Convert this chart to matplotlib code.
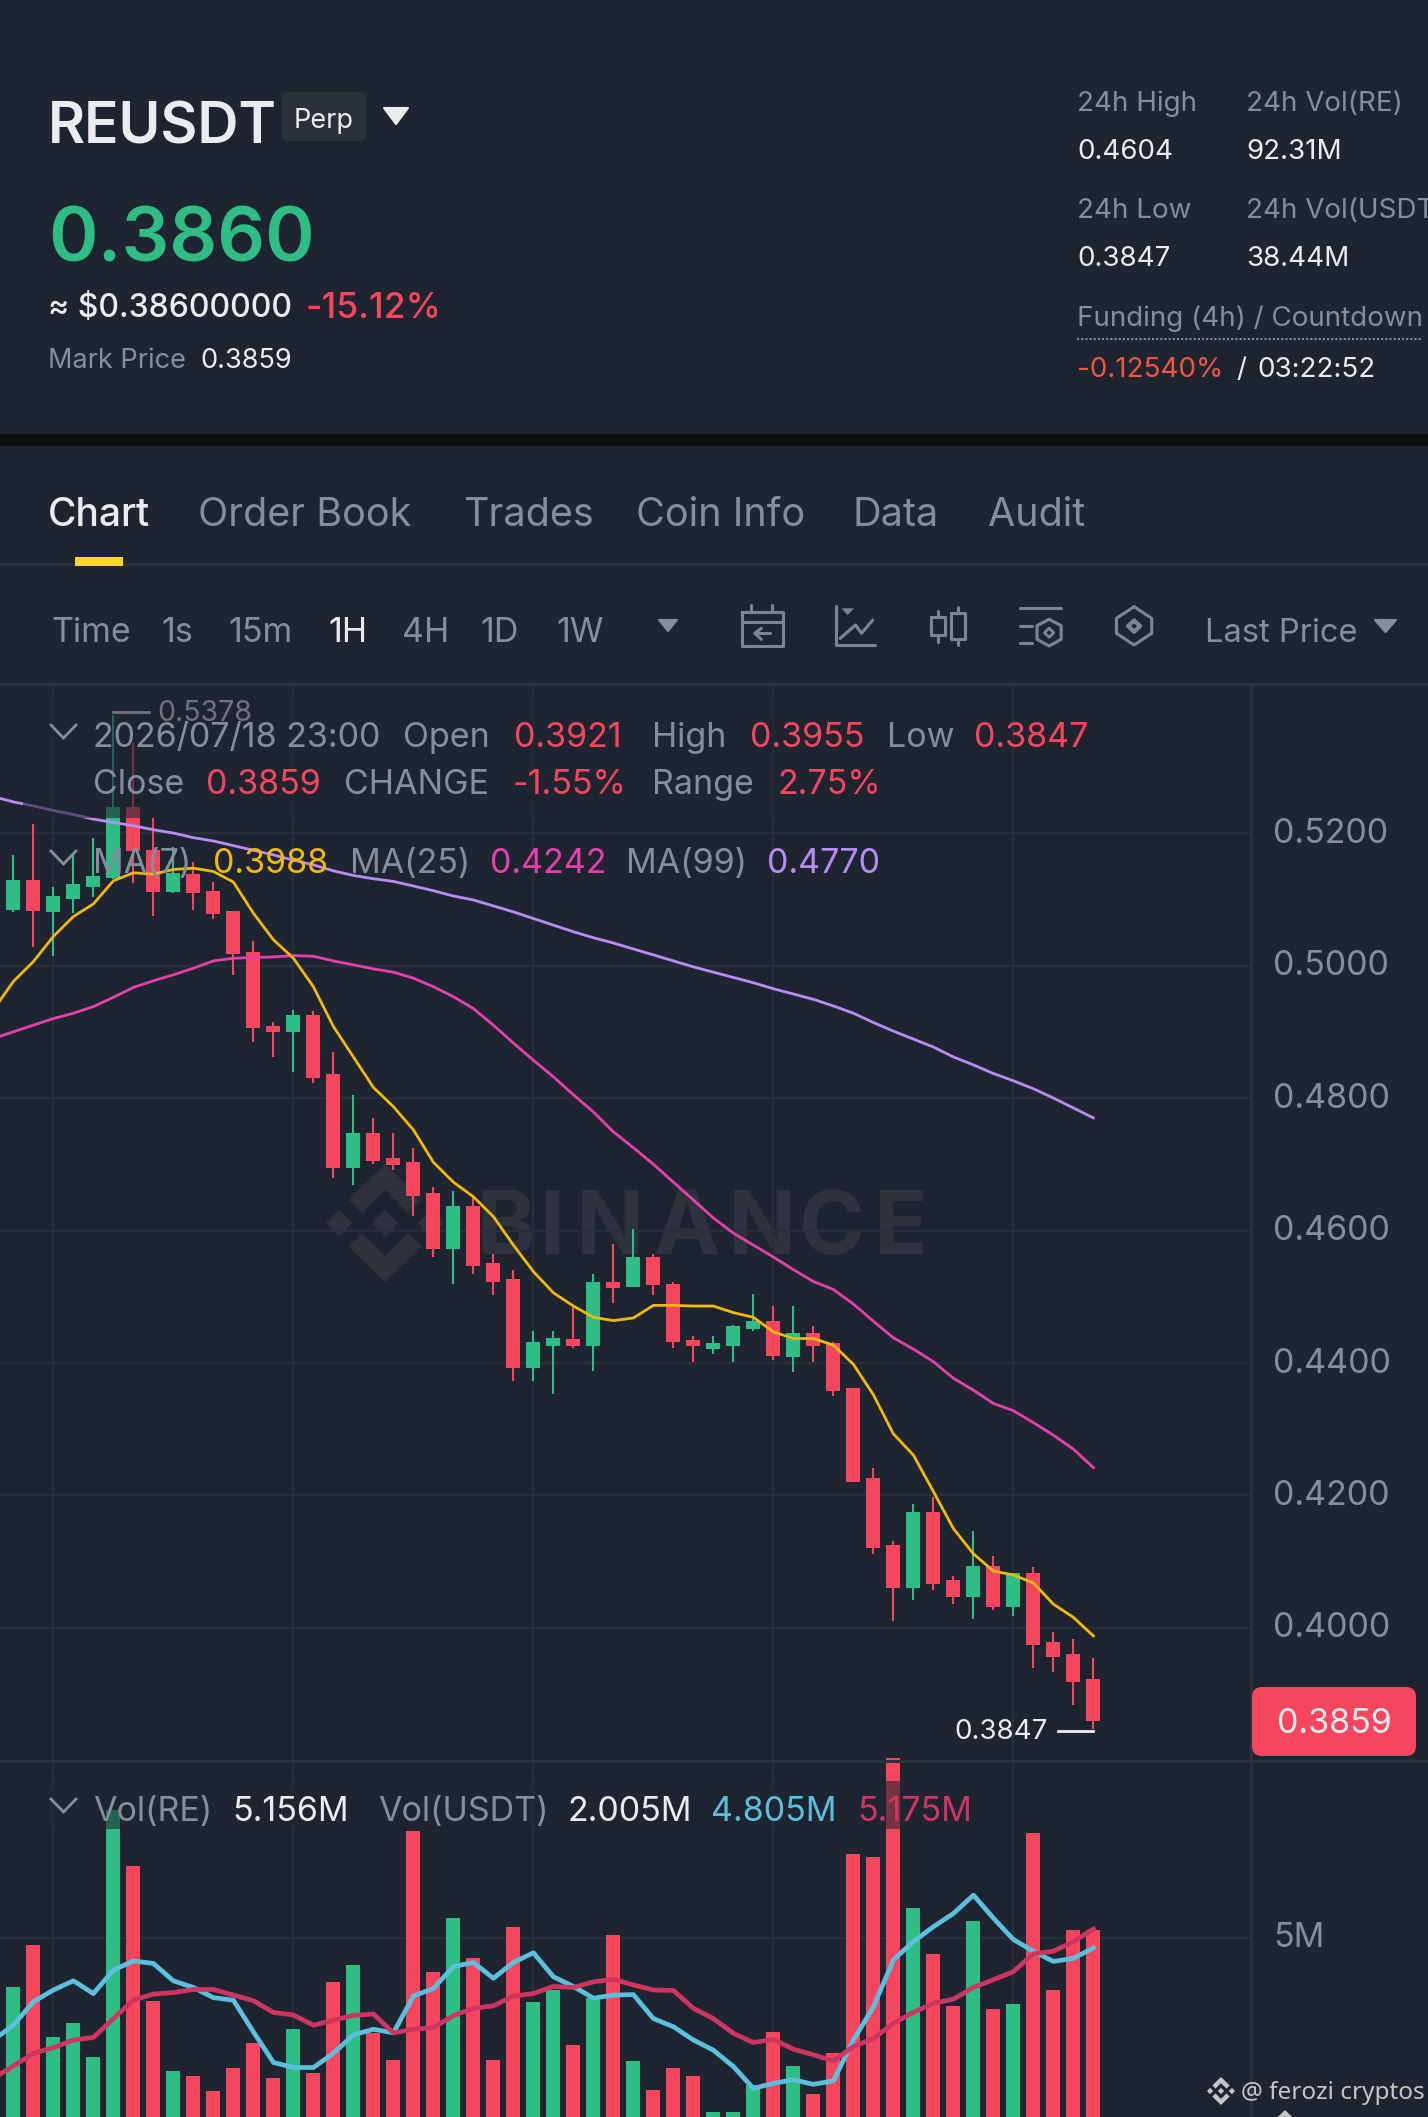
import numpy as np
import matplotlib
matplotlib.use('Agg')
import matplotlib.pyplot as plt
from matplotlib.patches import Polygon, Rectangle, FancyBboxPatch
from matplotlib.transforms import ScaledTranslation

plt.rcParams['font.family'] = ['Inter', 'DejaVu Sans']

# candle data, first candle sits just off the left edge
candle_index = np.arange(-1, 55)
opens = [.4993, .5084, .5129, .5081, .5100, .5119, .5132, .5240, .5174, .5111, .5138, .5113, .5082, .5021,
         .4908, .4899, .4925, .4836, .4694, .4747, .4709, .4703, .4656, .4572, .4637, .4551, .4527, .4393,
         .4426, .4436, .4426, .4522, .4514, .4560, .4520, .4434, .4421, .4425, .4452, .4463, .4409, .4446,
         .4430, .4362, .4226, .4126, .4060, .4175, .4072, .4047, .4094, .4031, .4083, .3979, .3960, .3923]
highs = [.5100, .5167, .5213, .5118, .5167, .5193, .5378, .5336, .5222, .5179, .5157, .5126, .5082, .5037,
         .4915, .4933, .4932, .4869, .4805, .4770, .4747, .4724, .4666, .4659, .4652, .4564, .4540, .4448,
         .4448, .4485, .4534, .4579, .4603, .4564, .4522, .4441, .4441, .4458, .4504, .4486, .4486, .4456,
         .4431, .4362, .4241, .4131, .4187, .4198, .4079, .4147, .4108, .4083, .4092, .3994, .3983, .3954]
lows = [.4990, .5081, .5028, .5015, .5080, .5104, .5130, .5124, .5075, .5110, .5084, .5070, .4986, .4885,
        .4862, .4840, .4822, .4679, .4669, .4701, .4691, .4622, .4560, .4519, .4535, .4503, .4373, .4373,
        .4353, .4423, .4388, .4490, .4514, .4502, .4422, .4401, .4413, .4401, .4449, .4405, .4386, .4401,
        .4350, .4220, .4112, .4011, .4042, .4057, .4036, .4014, .4027, .4018, .3940, .3934, .3884, .3847]
closes = [.5088, .5129, .5082, .5105, .5123, .5135, .5240, .5173, .5111, .5140, .5110, .5078, .5017, .4905,
          .4899, .4925, .4830, .4694, .4747, .4705, .4699, .4652, .4572, .4637, .4546, .4523, .4392, .4431,
          .4437, .4426, .4523, .4513, .4560, .4517, .4431, .4425, .4430, .4456, .4463, .4411, .4446, .4426,
          .4358, .4221, .4121, .4060, .4175, .4066, .4047, .4093, .4031, .4083, .3975, .3956, .3919, .3859]

ma7 = [.4933, .4976, .5006, .5044, .5074, .5093, .5128, .5140, .5138, .5145, .5147, .5142, .5126, .5079,
       .5039, .5011, .4968, .4908, .4862, .4816, .4787, .4752, .4703, .4673, .4651, .4621, .4578, .4538,
       .4506, .4486, .4469, .4464, .4468, .4487, .4487, .4486, .4486, .4476, .4469, .4447, .4437, .4437,
       .4427, .4398, .4352, .4293, .4261, .4206, .4150, .4112, .4086, .4080, .4068, .4036, .4016, .3988]
ma25 = [.4890, .4900, .4910, .4920, .4928, .4938, .4952, .4967, .4977, .4986, .4996, .5007, .5011, .5012,
        .5013, .5015, .5014, .5007, .5001, .4995, .4990, .4981, .4968, .4953, .4935, .4910, .4883, .4857,
        .4832, .4805, .4779, .4749, .4725, .4700, .4673, .4646, .4619, .4596, .4578, .4560, .4541, .4523,
        .4511, .4489, .4463, .4438, .4421, .4402, .4377, .4359, .4339, .4328, .4310, .4291, .4270, .4242]
ma99 = [.5255, .5247, .5241, .5234, .5228, .5221, .5216, .5211, .5205, .5200, .5193, .5188, .5181, .5174,
        .5167, .5159, .5152, .5143, .5136, .5131, .5127, .5120, .5113, .5105, .5099, .5090, .5081, .5071,
        .5061, .5051, .5042, .5034, .5025, .5016, .5007, .4998, .4990, .4982, .4974, .4965, .4957, .4949,
        .4939, .4928, .4914, .4901, .4889, .4877, .4862, .4850, .4837, .4826, .4814, .4800, .4785, .4770]

# volume in millions
vol = [5.24, 4.03, 4.86, 3.05, 3.33, 2.67, 7.51, 6.41, 3.77, 2.40, 2.29, 2.00, 2.46, 2.94,
       2.25, 3.21, 2.36, 4.13, 4.47, 3.13, 2.61, 7.10, 4.34, 5.39, 4.60, 2.61, 5.21, 3.74,
       3.98, 2.90, 3.82, 5.06, 2.59, 2.02, 2.46, 2.30, 1.58, 1.58, 2.12, 3.15, 2.49, 1.94,
       2.75, 6.64, 6.59, 8.53, 5.58, 4.69, 3.67, 5.34, 3.60, 3.70, 7.05, 3.98, 5.156, 5.156]
vol_ma7 = [3.00, 3.29, 3.75, 3.98, 4.16, 3.91, 4.37, 4.55, 4.50, 4.16, 4.03, 3.83, 3.78, 3.16,
           2.56, 2.46, 2.46, 2.74, 3.10, 3.21, 3.14, 3.86, 4.01, 4.44, 4.52, 4.21, 4.52, 4.71,
           4.24, 4.05, 3.82, 3.88, 3.89, 3.42, 3.26, 3.00, 2.80, 2.48, 2.05, 2.15, 2.22, 2.13,
           2.20, 3.00, 3.65, 4.57, 4.93, 5.22, 5.48, 5.84, 5.39, 4.97, 4.74, 4.54, 4.60, 4.805]
vol_ma25 = [2.25, 2.49, 2.74, 2.85, 3.00, 3.05, 3.42, 3.78, 3.90, 3.93, 3.99, 3.99, 3.88, 3.77,
            3.54, 3.49, 3.29, 3.39, 3.48, 3.51, 3.14, 3.21, 3.24, 3.48, 3.62, 3.67, 3.86, 3.91,
            4.05, 4.03, 4.14, 4.19, 4.08, 3.98, 3.97, 3.62, 3.42, 3.13, 2.95, 3.01, 2.82, 2.71,
            2.59, 2.87, 3.03, 3.33, 3.54, 3.72, 3.80, 4.03, 4.18, 4.34, 4.69, 4.74, 4.93, 5.175]

price_ticks = [0.52, 0.50, 0.48, 0.46, 0.44, 0.42, 0.40]
vol_ticks = [5]
vol_tick_labels = ['5M']
grid_candles = [2, 14, 26, 38, 50]
high_mark = 0.5378
low_mark = 0.3847
last_price = 0.3859

tabs = ['Chart', 'Order Book', 'Trades', 'Coin Info', 'Data', 'Audit']
tab_x = [48, 198, 463, 636, 852, 988]
intervals = ['Time', '1s', '15m', '1H', '4H', '1D', '1W']
interval_x = [51, 161, 228, 328, 402, 480, 556]
watermark_letters = ['B', 'I', 'N', 'A', 'N', 'C', 'E']
watermark_x = [505, 552, 609, 687, 761, 832, 900]

BG = '#1f2530'
LINE = '#2c323d'
GRID = '#292f3a'
GRAY = '#848e9c'
WHITE = '#eaecef'
GREEN = '#2ebd85'
RED = '#f6465d'
YELLOW = '#f0b90b'
MAGENTA = '#e63fae'
PURPLE = '#b88cf5'
CYAN = '#5bc0de'
CRIMSON = '#cf3560'
W, H = 1428, 2117

fig = plt.figure(figsize=(W / 100, H / 100), dpi=100, facecolor=BG)


def pixel_axes(zorder):
    a = fig.add_axes([0, 0, 1, 1], zorder=zorder)
    a.set_xlim(0, W)
    a.set_ylim(H, 0)
    a.axis('off')
    return a


def chart_axes(top, bottom, ylim):
    a = fig.add_axes([0, 1 - bottom / H, 1251 / W, (bottom - top) / H], zorder=1)
    a.patch.set_alpha(0)
    a.set_xlim(-13.4 / 20, (1251 - 13.4) / 20)
    a.set_ylim(*ylim)
    a.set_xticks([])
    for s in ['top', 'left', 'bottom']:
        a.spines[s].set_visible(False)
    a.spines['right'].set_color(LINE)
    a.spines['right'].set_linewidth(2)
    a.yaxis.tick_right()
    a.tick_params(axis='y', length=0, pad=16, labelsize=24.5, labelcolor=GRAY)
    for g in grid_candles:
        a.axvline(g, color=GRID, lw=1.6, zorder=0)
    return a


ui_back = pixel_axes(0)
ax = chart_axes(684, 1761, (0.37992, 0.5425))
ax_vol = chart_axes(1761, 2117, (1.49, 8.47))
ui = pixel_axes(2)


def txt(a, x, y, s, color=GRAY, size=20, weight='normal', ha='left'):
    a.text(x, y, s, color=color, fontsize=size, fontweight=weight, ha=ha, va='center')


def logo(a, cx, cy, r, color):
    shapes = [
        [(0, .225), (.225, 0), (0, -.225), (-.225, 0)],
        [(-.78, .225), (-.555, 0), (-.78, -.225), (-1, 0)],
        [(.78, .225), (1, 0), (.78, -.225), (.555, 0)],
        [(0, 1), (.62, .40), (.39, .17), (0, .565), (-.39, .17), (-.62, .40)],
        [(0, -1), (.62, -.40), (.39, -.17), (0, -.565), (-.39, -.17), (-.62, -.40)],
    ]
    for pts in shapes:
        a.add_patch(Polygon([(cx + px * r, cy - py * r) for px, py in pts], closed=True, fc=color, ec='none'))


def tri(a, x0, x1, y0, y1, color):
    a.add_patch(Polygon([(x0, y0), (x1, y0), ((x0 + x1) / 2, y1)], closed=True, fc=color, ec=color,
                        lw=1.5, joinstyle='round'))


def chevron(a, y):
    a.plot([51, 63.5, 76], [y, y + 13, y], color=GRAY, lw=2, solid_joinstyle='miter')


# watermark under the candles
logo(ui_back, 385, 1223, 59, '#2d323d')
for letter, x in zip(watermark_letters, watermark_x):
    ui_back.text(x, 1231, letter, color='#2d323d', fontsize=64, fontweight='bold', ha='center', va='center')

# candles
colors = [GREEN if c >= o else RED for o, c in zip(opens, closes)]
ax.vlines(candle_index, lows, highs, colors=colors, lw=1.5, zorder=2)
ax.bar(candle_index, np.abs(np.array(closes) - np.array(opens)), bottom=np.minimum(opens, closes),
       width=0.7, color=colors, zorder=3)
ax.plot(candle_index, ma99, color=PURPLE, lw=2, zorder=4)
ax.plot(candle_index, ma25, color=MAGENTA, lw=2, zorder=4)
ax.plot(candle_index, ma7, color=YELLOW, lw=2, zorder=5)
ax.set_yticks(price_ticks)
ax.set_yticklabels(['%.4f' % t for t in price_ticks])
for t in price_ticks:
    ax.axhline(t, color=GRID, lw=1.6, zorder=0)

# high / low markers
ax.plot([5, 6.8], [high_mark + 0.0005, high_mark + 0.0005], color=WHITE, lw=2, zorder=6)
ax.text(7.2, high_mark + 0.0003, '%.4f' % high_mark, color=WHITE, fontsize=20.5, va='center', zorder=6)
ax.plot([52.25, 54], [low_mark - 0.0002, low_mark - 0.0002], color=WHITE, lw=2, zorder=6)
ax.text(51.7, low_mark - 0.0004, '%.4f' % low_mark, color=WHITE, fontsize=20, va='center', ha='right', zorder=6)

# volume
ax_vol.bar(candle_index, vol, width=0.7, color=colors, zorder=2, clip_on=False)
ax_vol.plot(candle_index, vol_ma7, color=CYAN, lw=3.4, zorder=3)
ax_vol.plot(candle_index, vol_ma25, color=CRIMSON, lw=3.4, zorder=4)
ax_vol.set_yticks(vol_ticks)
ax_vol.set_yticklabels(vol_tick_labels)
for t in vol_ticks:
    ax_vol.axhline(t, color=GRID, lw=1.6, zorder=0)

# tick labels sit a little above their grid lines
for a in [ax, ax_vol]:
    for lbl in a.get_yticklabels():
        lbl.set_transform(lbl.get_transform() + ScaledTranslation(0, 3 / 100, fig.dpi_scale_trans))

# legend backgrounds dim what runs under the text
ui.add_patch(Rectangle((23, 690), 880, 128, fc=BG, ec='none', alpha=0.6))
ui.add_patch(Rectangle((23, 1781), 965, 48, fc=BG, ec='none', alpha=0.6))

# header
txt(ui, 48, 128, 'REUSDT', WHITE, 41, 'semibold')
ui.add_patch(FancyBboxPatch((286, 96), 76, 41, boxstyle='round,pad=4,rounding_size=6', fc='#2b3139', ec='none'))
txt(ui, 294, 121, 'Perp', WHITE, 19.5)
tri(ui, 384, 408, 108, 124, WHITE)
txt(ui, 48, 242, '0.3860', GREEN, 54, 'semibold')
txt(ui, 48, 309, '≈ $0.38600000', WHITE, 23, 'medium')
txt(ui, 305, 309, '-15.12%', RED, 25.5, 'medium')
txt(ui, 48, 361, 'Mark Price', GRAY, 19.5)
txt(ui, 200, 361, '0.3859', WHITE, 19.5)

txt(ui, 1077, 104, '24h High')
txt(ui, 1246, 104, '24h Vol(RE)')
txt(ui, 1077, 152, '0.4604', WHITE)
txt(ui, 1246, 152, '92.31M', WHITE)
txt(ui, 1077, 211, '24h Low')
txt(ui, 1246, 211, '24h Vol(USDT)')
txt(ui, 1077, 259, '0.3847', WHITE)
txt(ui, 1246, 259, '38.44M', WHITE)
txt(ui, 1077, 319, 'Funding (4h) / Countdown')
ui.plot([1077, 1421], [339, 339], color=GRAY, lw=1.5, ls=(0, (1, 1)))
txt(ui, 1077, 370, '-0.12540%', '#f6543e')
txt(ui, 1236, 370, '/', WHITE)
txt(ui, 1257, 370, '03:22:52', WHITE)

ui_back.add_patch(Rectangle((0, 434), W, 12, fc='#0b0e11', ec='none'))

# tabs
for name, x in zip(tabs, tab_x):
    if name == 'Chart':
        txt(ui, x, 515, name, WHITE, 28, 'medium')
    else:
        txt(ui, x, 515, name, GRAY, 28.5)
ui.plot([0, W], [564, 564], color=LINE, lw=2)
ui.add_patch(Rectangle((75, 557), 48, 9, fc='#fcd535', ec='none', zorder=5))

# interval row
for name, x in zip(intervals, interval_x):
    txt(ui, x, 633, name, WHITE if name == '1H' else GRAY, 24.5)
tri(ui, 659, 677, 620, 631, GRAY)


def icon(pts, lw=2.2):
    ui.plot([700 + p[0] / 2.154 for p in pts], [580 + p[1] / 3 for p in pts], color='#7d8593', lw=lw,
            solid_joinstyle='round', solid_capstyle='round')


# calendar
icon([(90, 95), (178, 95), (178, 198), (90, 198), (90, 95)])
icon([(90, 125), (178, 125)])
icon([(110, 75), (110, 95)])
icon([(155, 75), (155, 95)])
icon([(150, 160), (118, 160)])
icon([(132, 145), (118, 160), (132, 178)])
# line chart
icon([(292, 78), (292, 195), (378, 195)])
icon([(302, 175), (335, 135), (348, 160), (372, 120)])
ui.add_patch(Polygon([(700 + 305 / 2.154, 580 + 85 / 3), (700 + 332 / 2.154, 580 + 85 / 3),
                      (700 + 318 / 2.154, 580 + 105 / 3)], fc='#7d8593', ec='none'))
# candles
icon([(497, 110), (527, 110), (527, 165), (497, 165), (497, 110)])
icon([(512, 92), (512, 110)])
icon([(512, 165), (512, 185)])
icon([(540, 98), (570, 98), (570, 178), (540, 178), (540, 98)])
icon([(555, 80), (555, 98)])
icon([(555, 178), (555, 195)])
# indicators
icon([(690, 83), (778, 83)])
icon([(690, 137), (715, 137)])
icon([(690, 190), (715, 190)])
icon([(752, 118), (778, 137), (778, 178), (752, 198), (726, 178), (726, 137), (752, 118)])
icon([(752, 145), (762, 158), (752, 172), (742, 158), (752, 145)], 2)
# hexagon
icon([(935, 80), (973, 115), (973, 160), (935, 195), (897, 160), (897, 115), (935, 80)])
icon([(935, 122), (948, 138), (935, 155), (922, 138), (935, 122)], 3)
txt(ui, 1205, 633, 'Last Price', GRAY, 23.5)
tri(ui, 1375, 1396, 620, 632, GRAY)
ui.plot([0, W], [684, 684], color=LINE, lw=2.2)
ui.plot([0, W], [1761, 1761], color=LINE, lw=2.2)

# price legend
chevron(ui, 725)
row1 = [(93, '2026/07/18 23:00', GRAY), (403, 'Open', GRAY), (514, '0.3921', RED), (652, 'High', GRAY),
        (750, '0.3955', RED), (887, 'Low', GRAY), (974, '0.3847', RED)]
row2 = [(93, 'Close', GRAY), (206, '0.3859', RED), (344, 'CHANGE', GRAY), (513, '-1.55%', RED),
        (652, 'Range', GRAY), (777, '2.75%', RED)]
row3 = [(93, 'MA(7)', GRAY), (213, '0.3988', YELLOW), (350, 'MA(25)', GRAY), (490, '0.4242', MAGENTA),
        (626, 'MA(99)', GRAY), (767, '0.4770', PURPLE)]
for x, s, c in row1:
    txt(ui, x, 738, s, c, 24.5)
for x, s, c in row2:
    txt(ui, x, 785, s, c, 24.5)
chevron(ui, 851)
for x, s, c in row3:
    txt(ui, x, 864, s, c, 24.5)

# volume legend
chevron(ui, 1799)
row4 = [(93, 'Vol(RE)', GRAY), (232, '5.156M', WHITE), (378, 'Vol(USDT)', GRAY), (567, '2.005M', WHITE),
        (711, '4.805M', CYAN), (857, '5.175M', CRIMSON)]
for x, s, c in row4:
    txt(ui, x, 1812, s, c, 24.5)

# last price tag
ui.add_patch(FancyBboxPatch((1262, 1697), 144, 49, boxstyle='round,pad=10,rounding_size=10', fc=RED, ec='none'))
ui.text(1334, 1724, '%.4f' % last_price, color=WHITE, fontsize=24.5, ha='center', va='center')

# share watermark
logo(ui, 1221, 2091, 14, '#c4c6c8')
ui.text(1241, 2093, '@ ferozi cryptos', color='#c4c6c8', fontsize=17.5, family=['Noto Sans', 'DejaVu Sans'], va='center')
logo(ui, 1285, 2124, 14, '#c4c6c8')
ui.text(1307, 2129, '0.618 C', color='#c4c6c8', fontsize=17.5, family=['Noto Sans', 'DejaVu Sans'], va='center')

fig.savefig('out.png', dpi=100, facecolor=BG)
